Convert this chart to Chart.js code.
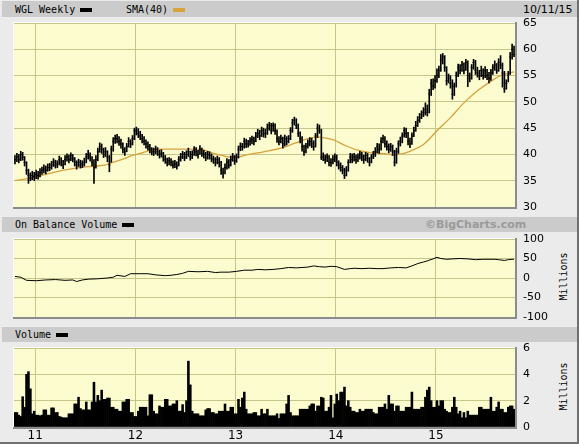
<!DOCTYPE html>
<html>
<head>
<meta charset="utf-8">
<script src="https://cdn.jsdelivr.net/npm/chart.js@4/dist/chart.umd.min.js"></script>
<style>
  html, body { margin: 0; padding: 0; background: #ebebeb; }
  #wrap { position: relative; width: 579px; height: 444px; overflow: hidden; background: #ebebeb; }
  #frame { position: absolute; left: 0; top: 0; width: 577px; height: 442px;
           border-right: 2px solid #707070; border-bottom: 2px solid #707070; }
  .band { position: absolute; left: 2px; width: 575px; height: 15px; background: #cbcbcb;
          font: 10px "DejaVu Sans Mono", monospace; color: #000; }
  .band span { position: absolute; top: 2px; white-space: pre; }
  .band i { position: absolute; top: 6px; width: 12px; height: 4px; background: #000; }
  .mil { position: absolute; width: 60px; text-align: center; font: 10px "DejaVu Sans Mono", monospace;
         transform: rotate(-90deg); }
  canvas { position: absolute; left: 0; top: 0; }
</style>
</head>
<body>
<div id="wrap">
  <div id="frame"></div>
  <div class="band" style="top:1px;height:16px">
    <span style="left:13px;top:3px">WGL Weekly</span><i style="left:78px;top:7px"></i>
    <span style="left:124px;top:3px">SMA(40)</span><i style="left:171px;top:7px;background:#d6a23c"></i>
    <span style="left:521px;top:2px;font:11px 'DejaVu Sans',sans-serif">10/11/15</span>
  </div>
  <div class="band" style="top:217px">
    <span style="left:13px">On Balance Volume</span><i style="left:120px"></i>
    <span style="left:423px;top:1px;font:bold 11px 'DejaVu Sans',sans-serif;color:#9a9a9a">©BigCharts.com</span>
  </div>
  <div class="band" style="top:327px">
    <span style="left:13px">Volume</span><i style="left:54px"></i>
  </div>
  <div class="mil" style="left:533px;top:271px">Millions</div>
  <div class="mil" style="left:533px;top:381px">Millions</div>
  <canvas id="cPrice" width="579" height="444"></canvas>
  <canvas id="cObv" width="579" height="444"></canvas>
  <canvas id="cVol" width="579" height="444"></canvas>
</div>

<script>
// weekly bars, Oct 2010 .. Oct 2015 (index 0 = first week shown)
const YEAR_POS = [10.5, 62.5, 114.5, 166.5, 218.5];
const YEAR_LABELS = ['11', '12', '13', '14', '15'];

const closes = [
  39, 39.5, 39, 40, 39.5, 38.5, 37, 36, 35.5, 36,
  35.8, 36.2, 36, 36.5, 37, 37.2, 37, 37.5, 37.5, 38,
  38.5, 38, 38.2, 39, 38.5, 38, 39, 39.5, 39, 39.8,
  39.2, 38.5, 38, 38.5, 38, 38.2, 38.5, 39.5, 40, 39.5,
  38.5, 37.5, 39, 40.5, 41.5, 41, 40, 40.5, 39.5, 38,
  41, 42.5, 43, 43, 42.5, 42, 41, 40.5, 41.5, 42.5,
  42, 43, 44.5, 44.5, 44, 43.5, 43, 42.5, 42, 41.5,
  41, 40.5, 40.5, 41, 40.5, 40, 40.2, 39.5, 39, 38.5,
  38.8, 38.5, 38, 38.2, 37.8, 39, 39.5, 40, 39.5, 40,
  40.5, 39.5, 40, 40.8, 40.5, 40, 41, 40.2, 40, 39.5,
  40, 39.8, 39.2, 39, 38.5, 39, 38.5, 37, 36.5, 37.5,
  38.5, 38, 39, 39.5, 38.8, 39.5, 41, 41.5, 41.5, 42.5,
  42, 42, 42.5, 42.8, 42.5, 43.5, 44, 43.5, 44.5, 44,
  44, 45, 45.5, 44.5, 45.5, 44.5, 43, 42.5, 43, 42,
  43, 42.5, 43, 44.5, 46, 46.5, 45.5, 44, 43, 41.5,
  40.5, 41.5, 42, 42.5, 42, 41.5, 43.5, 45, 44.5, 39.5,
  39.5, 39, 39.5, 38.5, 38.5, 39, 39.5, 38.5, 38, 37.5,
  37, 36, 37, 38.5, 39.5, 39, 39.5, 39, 39.5, 40,
  39.5, 39, 39.8, 39.2, 38.5, 39.5, 40, 40.5, 41.5, 41,
  42.5, 43, 42, 41.5, 41, 41.5, 40.5, 38.5, 40.5, 42,
  42.5, 43.5, 44.5, 44, 42.5, 42, 43.5, 44.5, 45.5, 46.5,
  47, 47.5, 48, 48.5, 48, 51.5, 53.5, 53, 54, 55,
  56, 58, 58.5, 56.5, 54, 54.5, 53.5, 51.5, 53, 55,
  56.5, 56, 57, 56, 57.5, 55, 54.5, 56.5, 57.5, 56,
  55.5, 55, 56, 55, 56, 55, 54.5, 55.5, 56.5, 57,
  56, 57.5, 57, 55.5, 52.5, 53.5, 55, 58.5, 60, 59
];

const highs = [
  39.8, 40.2, 40, 40.6, 40.4, 39.6, 38.6, 37.2, 36.5, 36.8,
  36.6, 37, 36.8, 37.3, 37.6, 38, 37.8, 38.2, 38.3, 38.7,
  39.2, 38.9, 38.8, 39.7, 39.4, 38.9, 39.8, 40.1, 39.9, 40.3,
  40, 39.4, 38.8, 39.1, 38.9, 38.8, 39.3, 40.2, 40.8, 40.3,
  39.6, 39, 39.8, 41.2, 42.2, 42, 41.2, 41.3, 40.7, 39.8,
  41.6, 43.2, 43.7, 43.8, 43.4, 42.9, 42.2, 41.3, 42.1, 43.2,
  42.8, 43.6, 45, 45.2, 44.9, 44.4, 43.8, 43.4, 42.8, 42.4,
  41.9, 41.3, 41.2, 41.6, 41.3, 40.8, 40.9, 40.4, 39.8, 39.3,
  39.4, 39.2, 38.8, 38.9, 38.6, 39.6, 40.2, 40.6, 40.4, 40.7,
  41.2, 40.6, 40.7, 41.5, 41.3, 40.8, 41.7, 41.2, 40.8, 40.4,
  40.6, 40.5, 40.1, 39.7, 39.4, 39.7, 39.4, 38.7, 37.4, 38.2,
  39.2, 39, 39.7, 40.2, 39.8, 40.1, 41.6, 42.2, 42.1, 43.1,
  42.9, 42.7, 43.2, 43.5, 43.3, 44.2, 44.8, 44.6, 45.2, 45,
  44.8, 45.8, 46.1, 45.9, 46, 45.8, 44.7, 43.4, 43.7, 43.3,
  43.7, 43.4, 43.6, 45.1, 46.7, 47.1, 46.8, 45.8, 44.3, 43.4,
  41.8, 42.1, 42.8, 43.2, 43.1, 42.6, 44, 45.8, 45.6, 44.8,
  40.3, 39.9, 40.1, 39.8, 39.2, 39.8, 40.1, 39.9, 38.8, 38.4,
  37.9, 37.4, 37.7, 39, 40.2, 40.1, 40.2, 39.9, 40.1, 40.6,
  40.4, 39.9, 40.4, 40.2, 39.4, 40, 40.6, 41.3, 42.1, 42,
  43.2, 43.7, 43.4, 42.6, 42, 42.1, 41.8, 40.8, 41.2, 42.6,
  43.3, 44.1, 45.1, 45, 44.2, 43.1, 44.1, 45.2, 46.3, 47.2,
  47.8, 48.3, 48.9, 49.8, 49.4, 52.4, 54.3, 54.4, 55, 56.3,
  56.8, 59, 59.2, 58.8, 56.7, 55.3, 55, 54.2, 53.6, 55.7,
  57.2, 57.1, 57.7, 57.4, 58.1, 57.8, 55.5, 57.1, 58.1, 57.9,
  56.6, 56, 56.8, 56.3, 56.7, 56.2, 55.6, 56.2, 57.1, 57.8,
  57.3, 58.2, 58.8, 57.4, 55.8, 54.2, 55.8, 59.4, 61, 60.6
];

const lows = [
  38.2, 38.6, 38.4, 38.8, 38.9, 37.8, 36.2, 34.5, 35, 35.2,
  35, 35.4, 35.3, 35.7, 36.2, 36.5, 36.3, 36.8, 36.9, 37.2,
  37.7, 37.4, 37.5, 38, 37.8, 37.3, 38, 38.7, 38.4, 38.8,
  38.6, 37.8, 37.2, 37.7, 37.4, 37.5, 37.8, 38.4, 39.1, 38.7,
  37.8, 34.5, 37.4, 38.8, 40.4, 40.2, 39.4, 39.6, 38.6, 36.7,
  38.5, 40.6, 42.1, 42.2, 41.7, 41.2, 40.3, 39.8, 40.5, 41.4,
  41.3, 41.8, 42.8, 43.7, 43.2, 42.8, 42.2, 41.8, 41.2, 40.8,
  40.3, 39.9, 39.8, 40.1, 39.8, 39.3, 39.5, 38.7, 38.3, 37.8,
  38, 37.8, 37.4, 37.5, 37.2, 37.8, 38.7, 39.2, 38.8, 39.2,
  39.6, 38.9, 39.2, 39.8, 39.7, 39.3, 40, 39.6, 39.3, 38.8,
  39.1, 39.1, 38.6, 38.3, 37.8, 38.2, 37.6, 36.2, 35.5, 36.3,
  37.2, 37.4, 37.8, 38.7, 38.1, 38.5, 39.3, 40.7, 40.8, 41.2,
  41.3, 41.4, 41.7, 42, 41.8, 42.4, 43.2, 42.8, 43.4, 43.3,
  43.2, 43.8, 44.6, 43.9, 44.4, 43.8, 42.3, 41.8, 42.2, 41.2,
  41.6, 41.8, 42.2, 42.8, 44.2, 45.6, 44.9, 43.4, 42.2, 40.6,
  39.8, 40.3, 41.2, 41.6, 41.3, 40.8, 41.4, 43.2, 44, 39,
  38.8, 38.3, 38.6, 37.8, 37.7, 38.2, 38.6, 37.8, 37.2, 36.8,
  36.3, 35.4, 35.9, 36.8, 38.4, 38.4, 38.7, 38.3, 38.6, 39.1,
  38.8, 38.3, 38.8, 38.5, 37.8, 38.4, 39.2, 39.6, 40.3, 40.2,
  40.8, 42.2, 41.4, 40.8, 40.3, 40.6, 39.8, 37.8, 38.3, 40.2,
  41.6, 42.2, 43.3, 43.2, 41.8, 41.3, 41.9, 43.4, 44.4, 45.3,
  46.1, 46.8, 47.2, 47.5, 47.3, 47.9, 51.2, 52.3, 52.6, 53.7,
  54.6, 55.8, 57.2, 55.8, 53.2, 53.6, 52.6, 50.5, 51.2, 52.8,
  54.8, 55.3, 55.8, 55.3, 56, 52.9, 53.8, 54.3, 56.2, 55.2,
  54.7, 54.2, 54.8, 54.3, 54.6, 54.2, 53.6, 54.1, 55.2, 56,
  55.4, 55.8, 56.3, 52.8, 51.8, 52.4, 53.8, 55.2, 58.1, 58.6
];

// SMA(40)
const smaWeek = [0, 9, 16, 24, 33, 42, 47, 50, 56, 61, 65, 72, 80, 90, 97, 103, 110, 115, 120, 129,
  138, 145, 153, 158, 165, 172, 179, 186, 193, 198, 205, 212, 219, 226, 233, 240, 247, 252, 259];
const smaVal = [35, 35.6, 36.2, 36.9, 37.5, 37.8, 38, 38.4, 39.1, 39.8, 40.2, 40.9, 41, 41, 40.9, 40.2, 39.6, 39.4, 39.9, 40.5,
  41.2, 42.1, 43.1, 43.3, 42.8, 41.6, 40.7, 40.3, 40.1, 39.9, 40.6, 41.9, 44.5, 47, 49.8, 52.1, 53.9, 55, 55.7];

// On Balance Volume, millions
const obvWeek = [0, 3, 6, 11, 16, 21, 26, 30, 32, 35, 38, 43, 48, 51, 53, 57, 60, 65, 69, 73, 78, 81, 84, 87, 90,
  95, 100, 104, 107, 111, 115, 119, 123, 126, 130, 134, 138, 142, 146, 149, 152, 155, 158, 161, 164, 167, 171,
  174, 176, 180, 184, 188, 191, 195, 199, 203, 206, 209, 212, 214, 217, 219, 221, 224, 227, 231, 235, 239, 243,
  246, 249, 251, 254, 256, 258, 259];
const obvVal = [4, 2, -6, -7, -5, -4, -6, -5, -9, -5, -3, -2, 0, 2, 7, 4, 11, 11, 11, 8, 6, 7, 9, 12, 17,
  16, 17, 14, 15, 15, 17, 20, 20, 22, 21, 22, 24, 27, 26, 27, 28, 31, 29, 28, 30, 29, 22,
  24, 25, 24, 25, 24, 24, 26, 27, 26, 31, 37, 41, 44, 49, 53, 50, 48, 49, 50, 49, 47, 48,
  48, 48, 47, 45, 47, 48, 48];

// weekly volume, millions
const volumes = [
  1.1, 1.1, 0.9, 0.8, 2.3, 1.5, 4.0, 4.2, 2.9, 1.0,
  1.2, 0.9, 0.9, 0.85, 0.9, 1.3, 1.3, 0.9, 0.9, 1.45,
  1.45, 1.1, 1.1, 0.8, 0.75, 0.7, 0.7, 0.7, 1.0, 1.0,
  1.0, 1.75, 1.75, 2.26, 1.4, 1.3, 1.3, 1.9, 1.3, 1.3,
  1.9, 3.4, 1.9, 2.4, 2.0, 2.8, 2.1, 2.1, 2.2, 2.2,
  1.5, 1.5, 1.35, 1.35, 1.2, 1.2, 1.9, 1.9, 2.1, 2.1,
  1.1, 1.1, 0.8, 0.8, 1.2, 1.5, 1.5, 1.5, 1.5, 0.85,
  2.45, 2.45, 1.2, 1.0, 1.0, 1.6, 1.5, 1.5, 2.1, 2.1,
  1.6, 1.6, 1.75, 1.75, 2.0, 1.2, 1.2, 1.7, 1.1, 2.0,
  5.0, 3.2, 1.2, 1.0, 1.0, 1.0, 0.85, 0.85, 0.85, 1.3,
  1.4, 1.4, 1.1, 1.1, 1.0, 1.0, 1.2, 1.2, 1.2, 1.75,
  1.2, 1.2, 1.5, 1.5, 1.0, 1.0, 2.1, 1.5, 2.2, 2.65,
  1.35, 1.0, 1.0, 1.0, 1.1, 1.1, 0.85, 0.85, 1.35, 1.0,
  1.0, 1.35, 0.85, 0.85, 0.85, 0.85, 1.0, 0.65, 1.0, 1.0,
  1.0, 1.75, 2.4, 1.1, 0.85, 0.85, 0.85, 0.85, 1.35, 1.35,
  1.35, 1.35, 1.35, 1.6, 1.75, 1.75, 1.2, 1.6, 1.6, 2.26,
  2.2, 1.2, 1.2, 1.5, 2.4, 0.7, 1.75, 2.5, 2.0, 2.65,
  2.65, 3.03, 1.6, 2.0, 1.5, 1.2, 1.2, 1.1, 1.1, 1.35,
  1.2, 1.2, 1.35, 1.35, 1.35, 1.35, 1.1, 1.0, 1.0, 1.5,
  1.5, 1.5, 1.75, 1.35, 2.4, 1.75, 1.75, 1.2, 1.6, 1.6,
  1.2, 1.2, 1.2, 1.5, 1.5, 1.5, 2.65, 1.35, 1.35, 1.35,
  1.35, 1.5, 1.5, 2.26, 2.8, 3.03, 2.0, 1.5, 1.5, 2.0,
  1.6, 2.0, 2.0, 1.35, 1.2, 1.1, 1.1, 1.5, 2.26, 1.5,
  1.0, 1.2, 0.7, 1.1, 0.7, 1.2, 0.9, 0.9, 0.9, 0.9,
  0.9, 1.5, 1.5, 1.35, 1.35, 1.35, 1.35, 2.26, 1.2, 1.2,
  1.5, 1.9, 1.35, 1.35, 1.1, 1.1, 1.5, 1.6, 1.6, 1.35
];

const FONT = "'DejaVu Sans', sans-serif";
const GRID = '#c6c68a';
const PLOT_RIGHT_W = 64;

Chart.defaults.font.family = FONT;
Chart.defaults.color = '#000';

// plot background (dithered pale yellow) + bevelled edge
function makePattern(ctx) {
  const p = document.createElement('canvas');
  p.width = 2; p.height = 2;
  const g = p.getContext('2d');
  g.fillStyle = '#ffffc4'; g.fillRect(0, 0, 2, 2);
  g.fillStyle = '#f8f8da'; g.fillRect(0, 0, 1, 1); g.fillRect(1, 1, 1, 1);
  return ctx.createPattern(p, 'repeat');
}

const plotFrame = {
  id: 'plotFrame',
  beforeDraw(chart) {
    const a = chart.chartArea, ctx = chart.ctx;
    ctx.save();
    ctx.fillStyle = makePattern(ctx);
    ctx.fillRect(a.left, a.top, a.right - a.left, a.bottom - a.top);
    ctx.restore();
  },
  afterDraw(chart) {
    const a = chart.chartArea, ctx = chart.ctx;
    ctx.save();
    ctx.fillStyle = '#ffffff';
    ctx.fillRect(a.left - 1, a.top - 1, a.right - a.left + 1, 1);
    ctx.fillRect(a.left - 1, a.top - 1, 1, a.bottom - a.top + 1);
    ctx.fillStyle = '#8c8c8c';
    ctx.fillRect(a.left - 1, a.bottom, a.right - a.left + 3, 2);
    ctx.fillRect(a.right, a.top - 1, 2, a.bottom - a.top + 3);
    ctx.restore();
  }
};

function xAxis(showLabels) {
  return {
    type: 'linear', min: -0.5, max: 259.5, offset: false,
    grid: { color: GRID, drawTicks: false, lineWidth: 1, offset: false },
    border: { display: false },
    afterBuildTicks: s => { s.ticks = YEAR_POS.map(v => ({ value: v })); },
    afterFit: s => { s.height = showLabels ? 17 : 0; },
    ticks: {
      display: showLabels, autoSkip: false, maxRotation: 0, padding: 2,
      font: { size: 12 },
      callback: v => YEAR_LABELS[YEAR_POS.indexOf(v)]
    }
  };
}

function yAxis(min, max, step) {
  return {
    position: 'right', min: min, max: max,
    grid: { color: GRID, drawTicks: false },
    border: { display: false },
    afterFit: s => { s.width = PLOT_RIGHT_W; },
    ticks: { stepSize: step, padding: 8, font: { size: 11 } }
  };
}

const baseOpts = (padding, x, y) => ({
  responsive: false, animation: false, devicePixelRatio: 1,
  layout: { padding: padding },
  plugins: { legend: { display: false }, tooltip: { enabled: false } },
  events: [],
  scales: { x: x, y: y }
});

// ---- price panel ----
new Chart(document.getElementById('cPrice'), {
  type: 'bar',
  data: {
    datasets: [
      {
        type: 'line', data: smaWeek.map((w, k) => ({ x: w, y: smaVal[k] })),
        borderColor: '#d6a23c', borderWidth: 1.3, pointRadius: 0, tension: 0.4, order: 3
      },
      {
        data: highs.map((h, i) => ({ x: i, y: [lows[i], h] })),
        backgroundColor: '#000', barThickness: 1, grouped: false, order: 2
      },
      {
        type: 'line', data: closes.map((c, i) => ({ x: i, y: c })),
        showLine: false, pointStyle: 'line', pointRadius: 1, pointBorderWidth: 1,
        borderColor: '#000', order: 1
      }
    ]
  },
  options: baseOpts({ left: 14, top: 23, right: 0, bottom: 237 }, xAxis(false), yAxis(30, 65, 5)),
  plugins: [plotFrame]
});

// ---- on balance volume ----
new Chart(document.getElementById('cObv'), {
  type: 'line',
  data: {
    datasets: [{
      data: obvWeek.map((w, k) => ({ x: w, y: obvVal[k] })),
      borderColor: '#000', borderWidth: 1, pointRadius: 0, tension: 0
    }]
  },
  options: baseOpts({ left: 14, top: 239, right: 0, bottom: 127 }, xAxis(false), yAxis(-100, 100, 50)),
  plugins: [plotFrame]
});

// ---- volume ----
new Chart(document.getElementById('cVol'), {
  type: 'bar',
  data: {
    datasets: [{
      data: volumes.map((v, i) => ({ x: i, y: v })),
      backgroundColor: '#000', barPercentage: 1, categoryPercentage: 1, borderWidth: 0
    }]
  },
  options: baseOpts({ left: 14, top: 348, right: 0, bottom: 0 }, xAxis(true), yAxis(0, 6, 2)),
  plugins: [plotFrame]
});
</script>
</body>
</html>
